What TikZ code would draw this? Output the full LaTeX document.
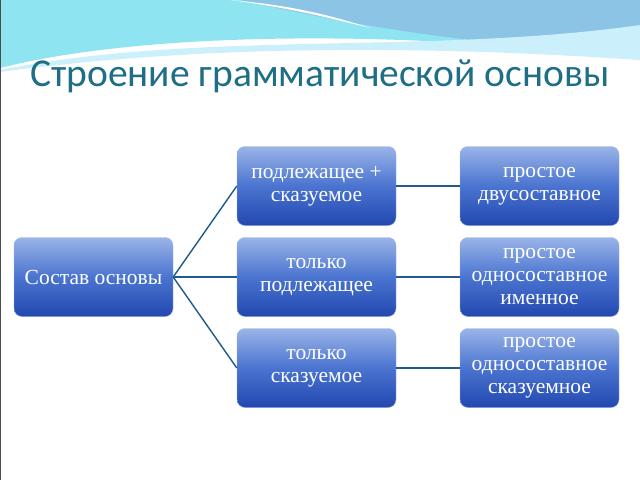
\documentclass[tikz,border=0pt]{standalone}
\usepackage{fontspec}
\setmainfont{Liberation Serif}
\newfontfamily\titlefont{Carlito}
\definecolor{boxtop}{HTML}{9AB4E8}
\definecolor{boxmid}{HTML}{4A74D0}
\definecolor{boxbot}{HTML}{2348B0}
\definecolor{linkblue}{HTML}{1F5A8A}
\definecolor{titleteal}{HTML}{1E6E86}
\definecolor{wavecyan}{HTML}{8EE4F0}
\definecolor{waveblue}{HTML}{8CC4E6}
\tikzset{
  partbox/.style={draw=boxtop, rounded corners=8pt, minimum width=159pt,
    minimum height=79pt, align=center, text=white, font=\fontsize{21.5}{23}\selectfont,
    top color=boxtop, bottom color=boxbot, middle color=boxmid},
  link/.style={draw=linkblue, line width=1.4pt}
}
\begin{document}
\begin{tikzpicture}[x=1pt,y=-1pt]
  \useasboundingbox (0,0) rectangle (640,480);
  \fill[white] (0,0) rectangle (640,480);
  % wave at the top
  \fill[wavecyan] (0,0) -- (0,68) .. controls (150,30) and (420,30) .. (640,60) -- (640,0) -- cycle;
  \fill[waveblue] (240,0) .. controls (330,20) and (480,50) .. (640,50) -- (640,0) -- cycle;
  \fill[white] (230,0) .. controls (290,5) and (330,15) .. (370,28) .. controls (330,18) and (290,8) .. (230,0);
  \fill[cyan!20!white] (0,70) .. controls (200,30) and (430,55) .. (640,25) -- (640,60) .. controls (420,45) and (200,45) .. (0,72) -- cycle;
  \draw[black!70, line width=1pt] (0.5,0) -- (0.5,480);
  \node[anchor=base west, inner sep=0pt, text=titleteal, font=\titlefont\fontsize{39.5}{44}\selectfont] (title) at (30,86) {Строение грамматической основы};

  \node[partbox] (root) at (93.5,277) {Состав основы};
  \node[partbox] (both) at (316.5,186) {подлежащее +\\сказуемое};
  \node[partbox] (subj) at (316.5,277) {только\\подлежащее};
  \node[partbox] (pred) at (316.5,368) {только\\сказуемое};
  \node[partbox] (two) at (539.5,186) {простое\\двусоставное};
  \node[partbox] (noun) at (539.5,277) {простое\\односоставное\\именное};
  \node[partbox] (verb) at (539.5,368) {простое\\односоставное\\сказуемное};

  \draw[link] (root.east) -- (both.west);
  \draw[link] (root.east) -- (subj.west);
  \draw[link] (root.east) -- (pred.west);
  \draw[link] (both) -- (two);
  \draw[link] (subj) -- (noun);
  \draw[link] (pred) -- (verb);
\end{tikzpicture}
\end{document}
